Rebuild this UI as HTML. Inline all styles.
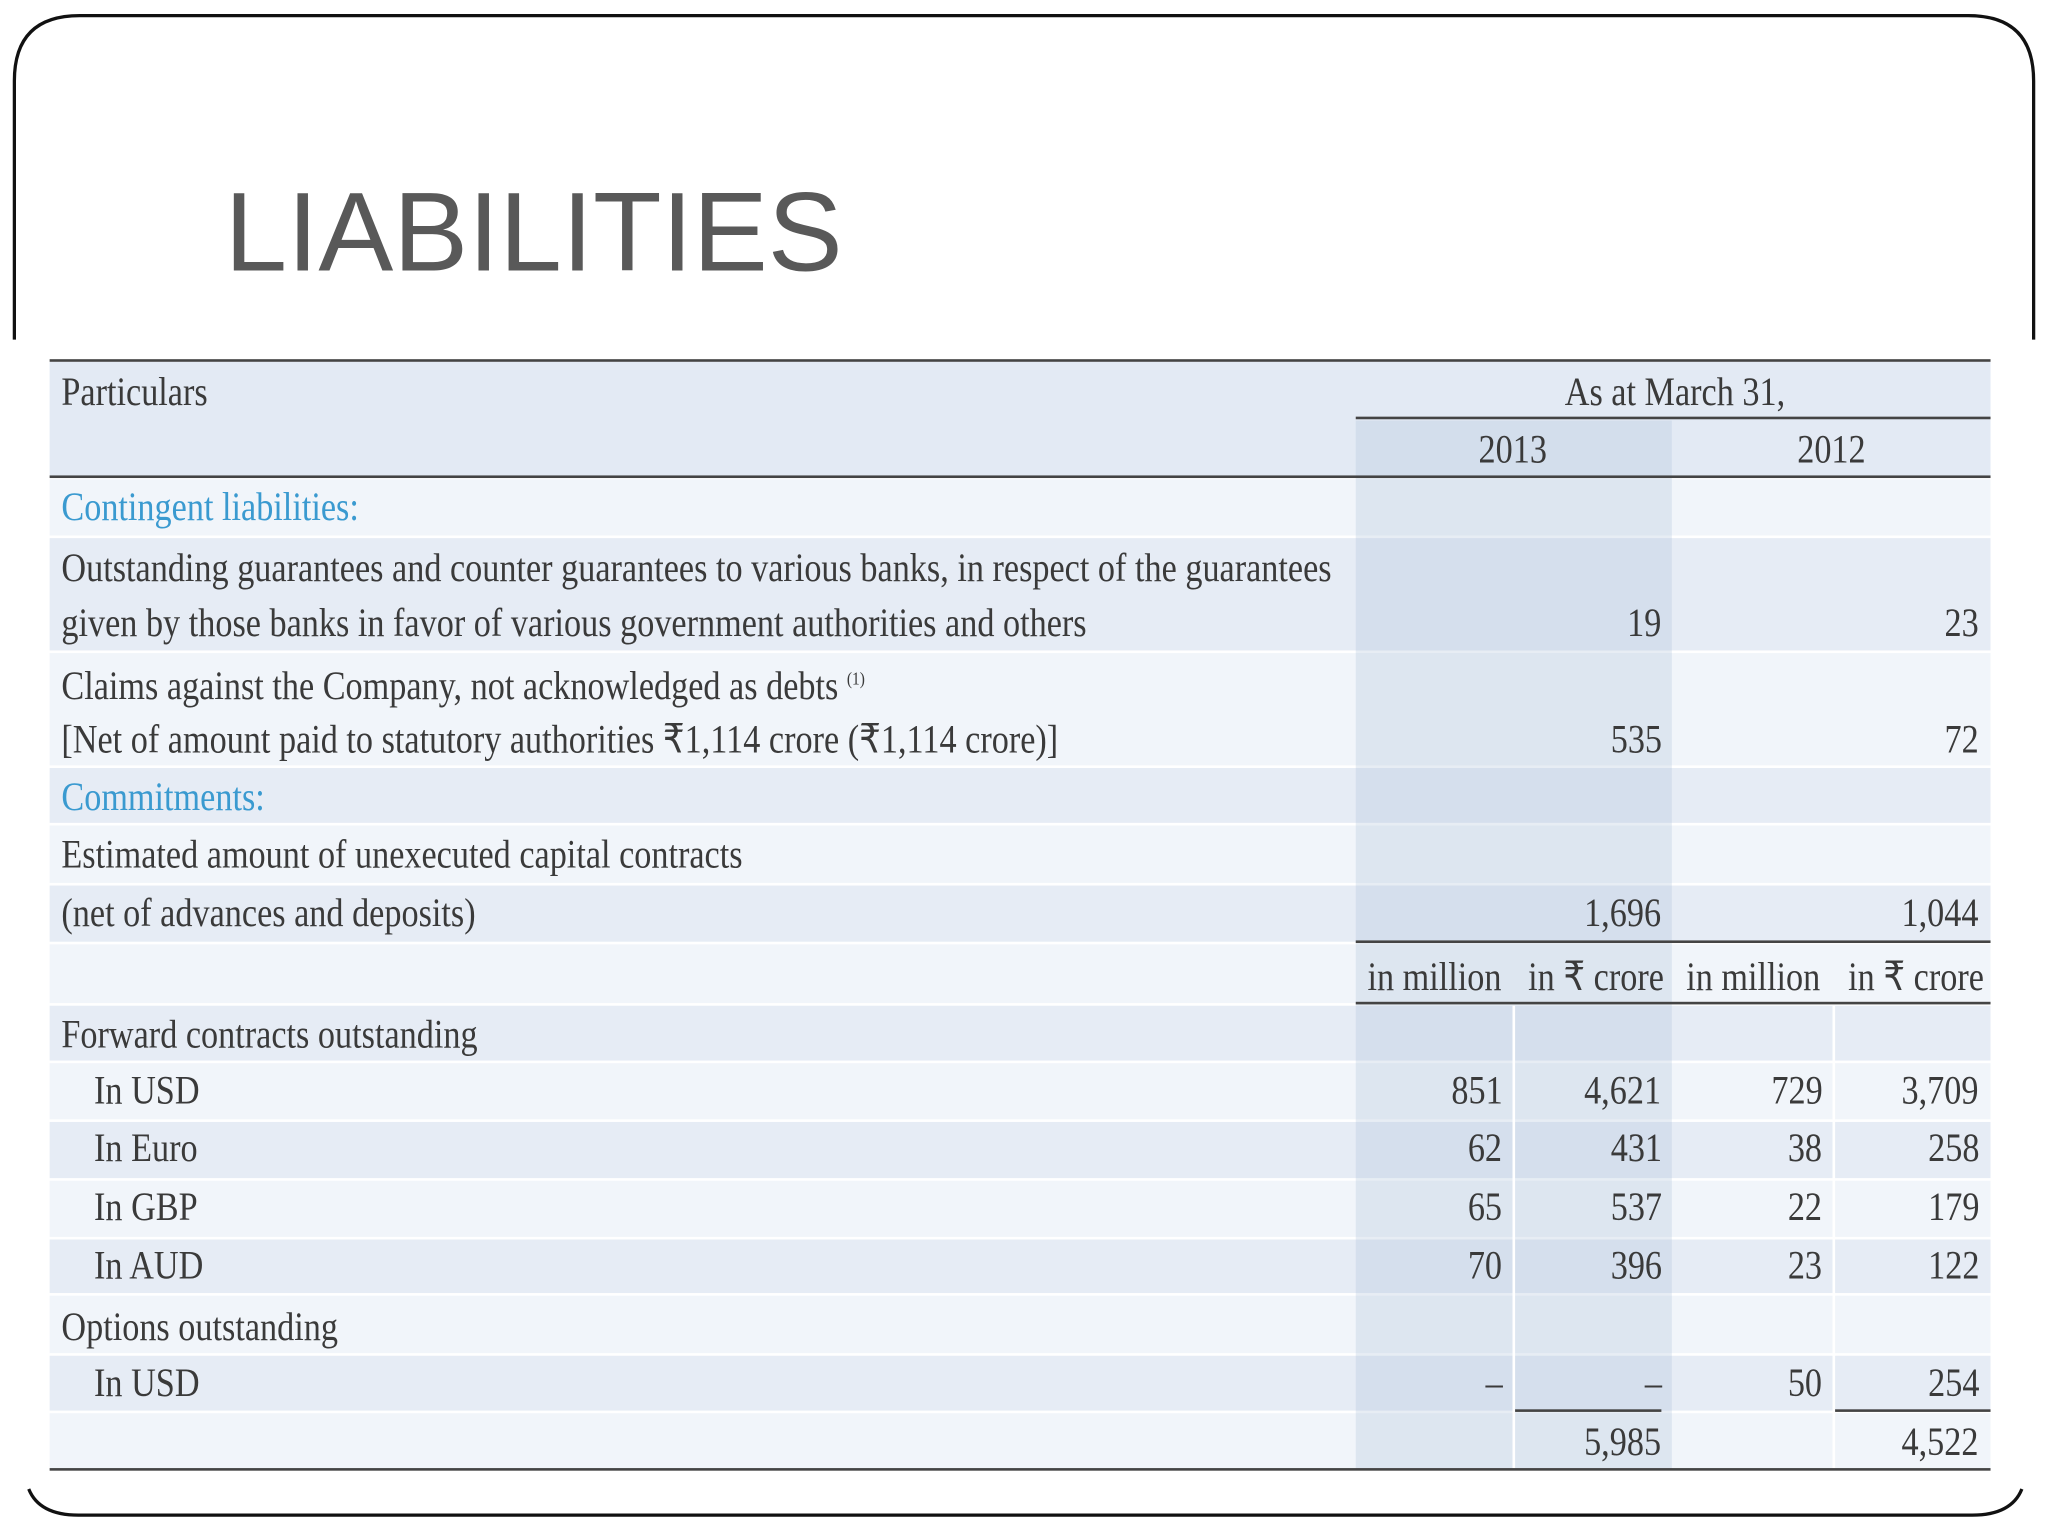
<!DOCTYPE html>
<html><head><meta charset="utf-8"><style>
body{margin:0;background:#fff;width:2048px;height:1536px;overflow:hidden}
#s{position:absolute;left:0;top:0;width:1568px;height:1176px;transform:scale(1.30612);transform-origin:0 0}
.t{position:absolute;white-space:nowrap;font-family:"Liberation Serif",serif;font-size:31px;color:#3a3a3a;transform:scaleX(.845);transform-origin:left top;line-height:36px}
.r{transform-origin:right top}
.b{color:#3a9ad0}
.bg{position:absolute}
.rule{position:absolute;background:#444;height:2px}
</style></head><body>
<div id="s">
<svg width="1568" height="1176" style="position:absolute;left:0;top:0">
<path d="M11 260 V62 Q11 12 61 12 H1507 Q1557 12 1557 62 V260" fill="none" stroke="#111" stroke-width="2.5"/>
<path d="M22 1140 Q30 1160 60 1160 H1510 Q1540 1160 1548 1140" fill="none" stroke="#111" stroke-width="2.5"/>
</svg>
<div style="position:absolute;left:172px;top:129px;font-family:'Liberation Sans',sans-serif;font-size:86px;color:#595959">LIABILITIES</div>

<div>
<div class="bg" style="left:38px;top:276px;width:1486px;height:849px;background:#fff"></div>
<div class="bg" style="left:38px;top:277px;width:1486px;height:88px;background:#e3eaf4"></div>
<div class="bg" style="left:38px;top:367px;width:1486px;height:43px;background:#f1f5fa"></div>
<div class="bg" style="left:38px;top:412px;width:1486px;height:86px;background:#e6ecf5"></div>
<div class="bg" style="left:38px;top:500px;width:1486px;height:86px;background:#f1f5fa"></div>
<div class="bg" style="left:38px;top:588px;width:1486px;height:42px;background:#e6ecf5"></div>
<div class="bg" style="left:38px;top:632px;width:1486px;height:44px;background:#f1f5fa"></div>
<div class="bg" style="left:38px;top:678px;width:1486px;height:43px;background:#e6ecf5"></div>
<div class="bg" style="left:38px;top:723px;width:1486px;height:45px;background:#f1f5fa"></div>
<div class="bg" style="left:38px;top:770px;width:1486px;height:42px;background:#e6ecf5"></div>
<div class="bg" style="left:38px;top:814px;width:1486px;height:43px;background:#f1f5fa"></div>
<div class="bg" style="left:38px;top:859px;width:1486px;height:43px;background:#e6ecf5"></div>
<div class="bg" style="left:38px;top:904px;width:1486px;height:43px;background:#f1f5fa"></div>
<div class="bg" style="left:38px;top:949px;width:1486px;height:41px;background:#e6ecf5"></div>
<div class="bg" style="left:38px;top:992px;width:1486px;height:44px;background:#f1f5fa"></div>
<div class="bg" style="left:38px;top:1038px;width:1486px;height:42px;background:#e6ecf5"></div>
<div class="bg" style="left:38px;top:1082px;width:1486px;height:43px;background:#f1f5fa"></div>
<div class="bg" style="left:1038px;top:322px;width:242px;height:803px;background:rgba(170,190,215,.28)"></div>
<div class="bg" style="left:1158px;top:770px;width:2px;height:355px;background:#fff"></div>
<div class="bg" style="left:1403px;top:770px;width:2px;height:355px;background:#fff"></div>
<div class="rule" style="left:38px;top:275px;width:1486px"></div>
<div class="rule" style="left:1038px;top:319px;width:486px"></div>
<div class="rule" style="left:38px;top:364px;width:1486px"></div>
<div class="rule" style="left:1038px;top:720px;width:486px"></div>
<div class="rule" style="left:1038px;top:767px;width:486px"></div>
<div class="rule" style="left:1160px;top:1079px;width:112px"></div>
<div class="rule" style="left:1405px;top:1079px;width:119px"></div>
<div class="rule" style="left:38px;top:1124px;width:1486px"></div>

<div class="t" style="left:47px;top:282px">Particulars</div>
<div class="t" style="left:1198px;top:282px">As at March 31,</div>
<div class="t" style="left:1132px;top:326px">2013</div>
<div class="t" style="left:1376px;top:326px">2012</div>

<div class="t b" style="left:47px;top:370px">Contingent liabilities:</div>
<div class="t" style="left:47px;top:417px">Outstanding guarantees and counter guarantees to various banks, in respect of the guarantees</div>
<div class="t" style="left:47px;top:459px">given by those banks in favor of various government authorities and others</div>
<div class="t r" style="right:296px;top:459px">19</div>
<div class="t r" style="right:53px;top:459px">23</div>
<div class="t" style="left:47px;top:503px">Claims against the Company, not acknowledged as debts <sup style="font-size:14px">(1)</sup></div>
<div class="t" style="left:47px;top:548px">[Net of amount paid to statutory authorities ₹1,114 crore (₹1,114 crore)]</div>
<div class="t r" style="right:296px;top:548px">535</div>
<div class="t r" style="right:53px;top:548px">72</div>
<div class="t b" style="left:47px;top:592px">Commitments:</div>
<div class="t" style="left:47px;top:636px">Estimated amount of unexecuted capital contracts</div>
<div class="t" style="left:47px;top:681px">(net of advances and deposits)</div>
<div class="t r" style="right:296px;top:681px">1,696</div>
<div class="t r" style="right:53px;top:681px">1,044</div>
<div class="t" style="left:1047px;top:730px">in million</div>
<div class="t" style="left:1170px;top:730px">in ₹ crore</div>
<div class="t" style="left:1291px;top:730px">in million</div>
<div class="t" style="left:1415px;top:730px">in ₹ crore</div>

<div class="t" style="left:47px;top:774px">Forward contracts outstanding</div>
<div class="t" style="left:72px;top:817px">In USD</div>
<div class="t" style="left:72px;top:861px">In Euro</div>
<div class="t" style="left:72px;top:906px">In GBP</div>
<div class="t" style="left:72px;top:951px">In AUD</div>
<div class="t" style="left:47px;top:998px">Options outstanding</div>
<div class="t" style="left:72px;top:1041px">In USD</div>

<div class="t r" style="right:418px;top:817px">851</div>
<div class="t r" style="right:296px;top:817px">4,621</div>
<div class="t r" style="right:173px;top:817px">729</div>
<div class="t r" style="right:53px;top:817px">3,709</div>
<div class="t r" style="right:418px;top:861px">62</div>
<div class="t r" style="right:296px;top:861px">431</div>
<div class="t r" style="right:173px;top:861px">38</div>
<div class="t r" style="right:53px;top:861px">258</div>
<div class="t r" style="right:418px;top:906px">65</div>
<div class="t r" style="right:296px;top:906px">537</div>
<div class="t r" style="right:173px;top:906px">22</div>
<div class="t r" style="right:53px;top:906px">179</div>
<div class="t r" style="right:418px;top:951px">70</div>
<div class="t r" style="right:296px;top:951px">396</div>
<div class="t r" style="right:173px;top:951px">23</div>
<div class="t r" style="right:53px;top:951px">122</div>
<div class="t r" style="right:418px;top:1041px">–</div>
<div class="t r" style="right:296px;top:1041px">–</div>
<div class="t r" style="right:173px;top:1041px">50</div>
<div class="t r" style="right:53px;top:1041px">254</div>
<div class="t r" style="right:296px;top:1086px">5,985</div>
<div class="t r" style="right:53px;top:1086px">4,522</div>
</div>
</div>
</body></html>
